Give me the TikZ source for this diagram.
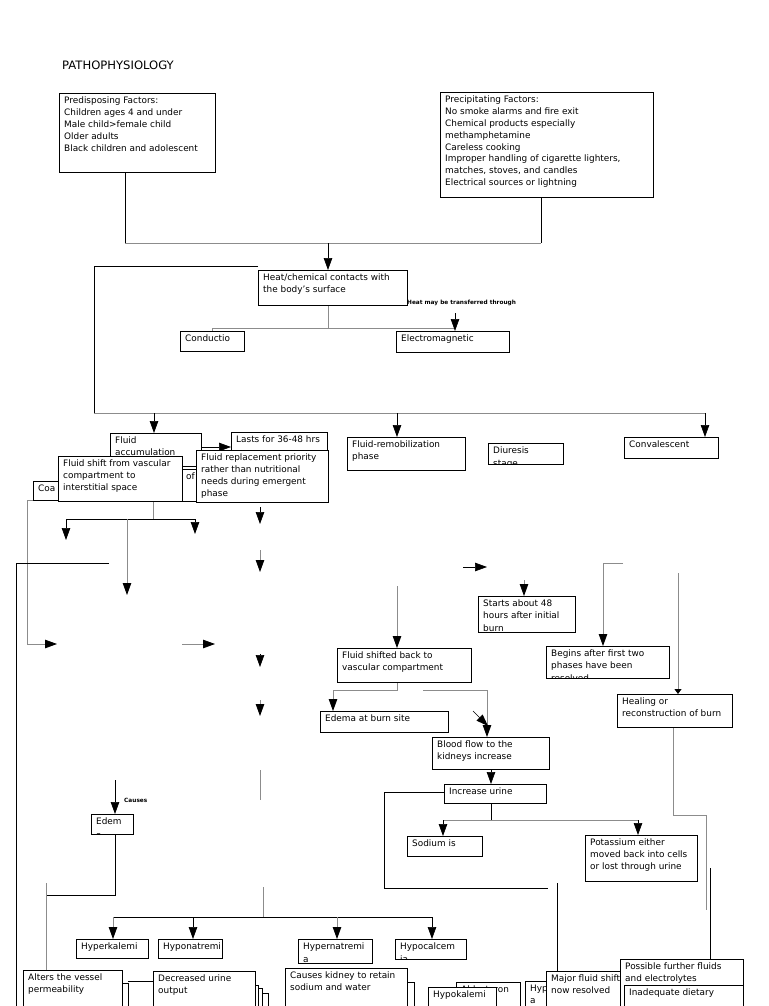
\documentclass[tikz,border=0pt]{standalone}
\usepackage{fontspec}
\setmainfont{DejaVu Sans}
\usetikzlibrary{arrows.meta}
\pgfdeclarelayer{bg}
\pgfsetlayers{bg,main}
\tikzset{
 bx/.style={draw, fill=white, anchor=north west, inner sep=0pt, outer sep=0pt, line width=0.8pt},
 tx/.style={anchor=north west, inner sep=0pt, align=left, font=\fontsize{8.9}{11.8}\selectfont},
 ln/.style={line width=0.7pt, draw=black},
 gl/.style={line width=0.8pt, draw=black!45},
 arr/.style={-{Triangle[length=12pt,width=8.5pt,color=black]}},
 sarr/.style={-{Triangle[length=5pt,width=7pt,color=black]}},
 lbl/.style={font=\fontsize{5.8}{7}\selectfont\bfseries, inner sep=0pt, anchor=west},
}
\newcommand\mybx[6]{%
 \node[bx, minimum width={(#4-#2)*1pt}, minimum height={(#5-#3)*1pt}] (#1) at (#2,#3) {};
 \begin{scope}
 \clip (#1.north west) rectangle (#1.south east);
 \node[tx] at ([xshift=5pt,yshift=-4pt]#1.north west) {#6};
 \end{scope}}
\begin{document}
\begin{tikzpicture}[x=1pt,y=-1pt]
\useasboundingbox (0,0) rectangle (768,1006);
\node[anchor=north west, inner sep=0pt, font=\fontsize{11.6}{13}\selectfont] (title) at (62,61) {PATHOPHYSIOLOGY};
% boxes
\mybx{pre}{59}{93}{215}{172}{Predisposing Factors:\\Children ages 4 and under\\Male child>female child\\Older adults\\Black children and adolescent}
\mybx{prec}{440}{92}{653}{197}{Precipitating Factors:\\No smoke alarms and fire exit\\Chemical products especially\\methamphetamine\\Careless cooking\\Improper handling of cigarette lighters,\\matches, stoves, and candles\\Electrical sources or lightning}
\mybx{heat}{258}{270}{407}{305}{Heat/chemical contacts with\\the body’s surface}
\mybx{cond}{180}{331}{244}{351}{Conductio}
\mybx{elec}{396}{331}{509}{352}{Electromagnetic}
\mybx{acc}{110}{433}{201}{475}{Fluid\\accumulation}
\mybx{lasts}{231}{432}{327}{452}{Lasts for 36-48 hrs}
\mybx{ofa}{178}{466}{205}{501}{}
\mybx{ofb}{178}{469}{205}{501}{\hspace*{3pt}of}
\mybx{coa}{33}{481}{70}{500}{Coa}
\mybx{shift}{58}{456}{182}{501}{Fluid shift from vascular\\compartment to\\interstitial space}
\mybx{repl}{196}{450}{328}{502}{Fluid replacement priority\\rather than nutritional\\needs during emergent\\phase}
\mybx{remob}{347}{437}{465}{470}{Fluid-remobilization\\phase}
\mybx{diur}{488}{443}{563}{464}{Diuresis\\[1pt]stage}
\mybx{conv}{624}{437}{718}{458}{Convalescent}
\mybx{starts}{478}{596}{575}{632}{Starts about 48\\hours after initial\\[1pt]burn}
\mybx{begins}{546}{646}{669}{678}{Begins after first two\\phases have been\\[1pt]resolved}
\mybx{fsb}{337}{648}{471}{682}{Fluid shifted back to\\vascular compartment}
\mybx{edema}{320}{711}{448}{732}{Edema at burn site}
\mybx{blood}{432}{737}{549}{769}{Blood flow to the\\kidneys increase}
\mybx{heal}{617}{694}{732}{727}{Healing or\\reconstruction of burn}
\mybx{incr}{444}{784}{546}{803}{Increase urine}
\mybx{sod}{407}{836}{482}{856}{Sodium is}
\mybx{pot}{585}{835}{697}{881}{Potassium either\\moved back into cells\\or lost through urine}
\mybx{edem}{91}{814}{133}{834}{Edem\\[2pt]a}
\mybx{hyperk}{76}{939}{148}{958}{Hyperkalemi}
\mybx{hypon}{158}{939}{222}{958}{Hyponatremi}
\mybx{hypern}{298}{939}{372}{963}{Hypernatremi\\[1pt]a}
\mybx{hypoc}{395}{939}{466}{959}{Hypocalcem\\[1pt]ia}
\mybx{altsh}{60}{983}{128}{1006}{}
\mybx{alt}{23}{970}{122}{1006}{Alters the vessel\\permeability}
\mybx{decs2}{170}{993}{268}{1006}{}
\mybx{decs1}{165}{988}{262}{1006}{}
\mybx{decs0}{160}{985}{258}{1006}{}
\mybx{dec}{153}{971}{255}{1006}{Decreased urine\\output}
\mybx{caussh}{300}{982}{414}{1006}{}
\mybx{caus}{285}{968}{407}{1006}{Causes kidney to retain\\sodium and water}
\mybx{ald}{456}{982}{520}{1006}{Aldosteron}
\mybx{hypok}{428}{987}{496}{1006}{Hypokalemi}
\mybx{hyp}{525}{981}{565}{1006}{Hyp\\a}
\mybx{major}{546}{971}{625}{1006}{Major fluid shift\\now resolved}
\mybx{poss}{620}{959}{743}{1006}{Possible further fluids\\and electrolytes}
\mybx{inad}{624}{985}{743}{1006}{Inadequate dietary}
% labels
\node[lbl] (lab1) at (407,303) {Heat may be transferred through};
\node[lbl] (lab2) at (124,800) {Causes};
% coordinates
\coordinate (j1) at (125,243); \coordinate (j2) at (541,243); \coordinate (j3) at (328,243);
\coordinate (l0) at (258,266); \coordinate (l1) at (94,266); \coordinate (l2) at (94,413); \coordinate (l3) at (705,413);
\coordinate (a1) at (154,413); \coordinate (a2) at (397,413);
\coordinate (h1) at (328,328); \coordinate (h2) at (212,328); \coordinate (h3) at (455,328); \coordinate (h4) at (455,313);
\coordinate (q1) at (201,447);
\coordinate (s1) at (153,519); \coordinate (s2) at (66,519); \coordinate (s3) at (195,519); \coordinate (s4) at (66,540); \coordinate (s5) at (195,534); \coordinate (s6) at (127,519); \coordinate (s7) at (127,595);
\coordinate (k1) at (27,500); \coordinate (k2) at (27,644); \coordinate (k3) at (57,644);
\coordinate (m1) at (182,644); \coordinate (m2) at (215,644);
\coordinate (f1) at (109,563); \coordinate (f2) at (16,563); \coordinate (f3) at (16,1006);
\coordinate (v1) at (260,507); \coordinate (v2) at (260,524); \coordinate (v3) at (260,550); \coordinate (v4) at (260,572);
\coordinate (v5) at (260,654); \coordinate (v6) at (260,667); \coordinate (v7) at (260,700); \coordinate (v8) at (260,716);
\coordinate (v9) at (260,770); \coordinate (v10) at (260,800);
\coordinate (r1) at (463,567); \coordinate (r2) at (487,567); \coordinate (r3) at (524,580);
\coordinate (r4) at (623,563); \coordinate (r5) at (603,563); \coordinate (r6) at (678,573); \coordinate (r7) at (397,586);
\coordinate (b1) at (397,690); \coordinate (b2) at (333,690); \coordinate (b3) at (423,690); \coordinate (b4) at (487,690);
\coordinate (b5) at (473,711); \coordinate (b6) at (488,726); \coordinate (b7) at (491,775);
\coordinate (c1) at (384,792); \coordinate (c2) at (384,888); \coordinate (c3) at (548,888); \coordinate (c4) at (557,883);
\coordinate (d1) at (491,820); \coordinate (d2) at (443,820); \coordinate (d3) at (638,820);
\coordinate (e1) at (673,815); \coordinate (e2) at (706,815); \coordinate (e3) at (706,910); \coordinate (e4) at (710,868);
\coordinate (g1) at (115,780); \coordinate (g2) at (115,895); \coordinate (g3) at (46,895); \coordinate (g4) at (46,883); \coordinate (g5) at (46,1006);
\coordinate (h5) at (263,887); \coordinate (h6) at (263,917);
\coordinate (n1) at (113,917); \coordinate (n2) at (193,917); \coordinate (n3) at (337,917); \coordinate (n4) at (432,917);
\coordinate (o1) at (128,981);
\begin{pgfonlayer}{bg}
\draw[ln] (pre.south -| j1) -- (j1);
\draw[ln] (prec.south -| j2) -- (j2);
\draw[gl] (j1) -- (j2);
\draw[ln,arr] (j3) -- (heat.north -| j3);
\draw[ln] (l0) -- (l1) -- (l2);
\draw[gl] (l2) -- (l3);
\draw[ln,arr] (a1) -- (acc.north -| a1);
\draw[ln,arr] (a2) -- (remob.north -| a2);
\draw[ln,arr] (l3) -- (conv.north -| l3);
\draw[gl] (heat.south -| h1) -- (h1);
\draw[gl] (cond.north -| h2) -- (h2) -- (h3);
\draw[ln,arr] (h4) -- (elec.north -| h4);
\draw[ln,arr] (acc.east |- q1) -- (lasts.west |- q1);
\draw[gl] (shift.south -| s1) -- (s1);
\draw[ln] (s2) -- (s3);
\draw[ln,arr] (s2) -- (s4);
\draw[ln,arr] (s3) -- (s5);
\draw[gl,arr] (s6) -- (s7);
\draw[gl] (coa.south west) -- (k1);
\draw[gl,arr] (k1) -- (k2) -- (k3);
\draw[gl,arr] (m1) -- (m2);
\draw[ln] (f1) -- (f2) -- (f3);
\draw[ln,arr] (v1) -- (v2);
\draw[gl,arr] (v3) -- (v4);
\draw[ln,arr] (v5) -- (v6);
\draw[gl,arr] (v7) -- (v8);
\draw[gl] (v9) -- (v10);
\draw[ln,arr] (r1) -- (r2);
\draw[gl,arr] (r3) -- (starts.north -| r3);
\draw[gl] (r4) -- (r5);
\draw[gl,arr] (r5) -- (begins.north -| r5);
\draw[gl,sarr] (r6) -- (heal.north -| r6);
\draw[gl,arr] (r7) -- (fsb.north -| r7);
\draw[gl] (fsb.south -| b1) -- (b1) -- (b2);
\draw[gl,arr] (b2) -- (edema.north -| b2);
\draw[gl] (b3) -- (b4);
\draw[gl,arr] (b4) -- (blood.north -| b4);
\draw[ln,arr] (b5) -- (b6);
\draw[ln,arr] (blood.south -| b7) -- (incr.north -| b7);
\draw[ln] (incr.west |- c1) -- (c1) -- (c2) -- (c3);
\draw[ln] (c4) -- (major.north -| c4);
\draw[ln] (incr.south -| d1) -- (d1);
\draw[gl] (d2) -- (d3);
\draw[ln,arr] (d2) -- (sod.north -| d2);
\draw[ln,arr] (d3) -- (pot.north -| d3);
\draw[gl] (heal.south -| e1) -- (e1) -- (e2) -- (e3);
\draw[ln] (e4) -- (poss.north -| e4);
\draw[ln,arr] (g1) -- (edem.north -| g1);
\draw[ln] (edem.south -| g2) -- (g2) -- (g3);
\draw[gl] (g4) -- (g5);
\draw[gl] (h5) -- (h6);
\draw[ln] (n1) -- (n4);
\draw[gl,arr] (n1) -- (hyperk.north -| n1);
\draw[ln,arr] (n2) -- (hypon.north -| n2);
\draw[gl,arr] (n3) -- (hypern.north -| n3);
\draw[ln,arr] (n4) -- (hypoc.north -| n4);
\draw[ln] (altsh.east |- o1) -- (dec.west |- o1);
\end{pgfonlayer}
\end{tikzpicture}
\end{document}
